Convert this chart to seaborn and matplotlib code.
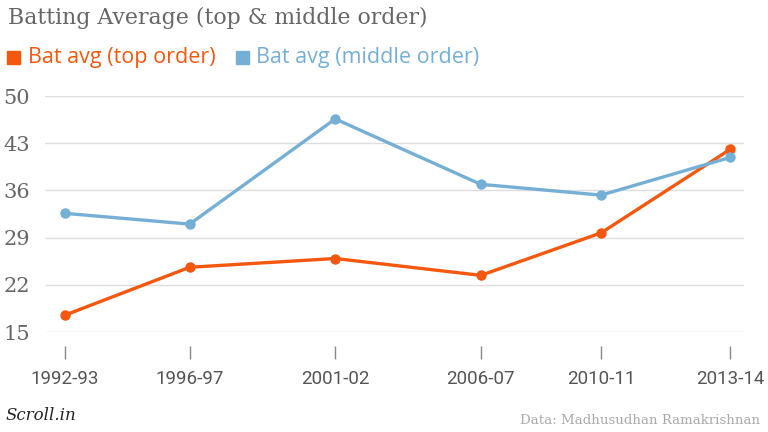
import pandas as pd
import matplotlib.pyplot as plt
import seaborn as sns
from matplotlib.patches import Rectangle

# Datos
seasons = ['1992-93', '1996-97', '2001-02', '2006-07', '2010-11', '2013-14']
season_x = [1992.5, 1996.7, 2001.6, 2006.5, 2010.55, 2014.9]
top_order = [17.5, 24.6, 25.9, 23.4, 29.7, 42.1]
middle_order = [32.6, 31.0, 46.6, 36.9, 35.3, 40.9]
y_ticks = [15, 22, 29, 36, 43, 50]

orange = '#f4580f'
blue = '#76afd5'

df = pd.DataFrame({
    'x': season_x * 2,
    'avg': top_order + middle_order,
    'serie': ['Bat avg (top order)'] * 6 + ['Bat avg (middle order)'] * 6,
})

sns.set_style('white')
fig = plt.figure(figsize=(7.68, 4.32), dpi=100)
ax = fig.add_axes([45 / 768, 100 / 432, 699 / 768, 236 / 432])

sns.lineplot(data=df, x='x', y='avg', hue='serie',
             palette={'Bat avg (top order)': orange, 'Bat avg (middle order)': blue},
             marker='o', markersize=7.5, markeredgewidth=0, linewidth=2.4,
             legend=False, ax=ax)

ax.set_xlim(1991.83, 2015.36)
ax.set_ylim(15, 50)
ax.set_xlabel('')
ax.set_ylabel('')
ax.grid(axis='y', color='#dddddd', linewidth=1)
for s in ['top', 'right', 'left']:
    ax.spines[s].set_visible(False)
ax.spines['bottom'].set_position(('outward', 10))
ax.spines['bottom'].set_visible(False)
ax.tick_params(axis='x', direction='out', length=9, width=1, color='#888888', pad=8, bottom=True,
               labelsize=13.5, labelcolor='#555555')
ax.tick_params(axis='y', length=0, pad=11, labelsize=15, labelcolor='#666666')

ax.set_yticks(y_ticks)
ax.set_yticklabels([str(t) for t in y_ticks], family='DejaVu Serif', fontsize=15, color='#666666')
ax.set_xticks(season_x)
ax.set_xticklabels(seasons, family='Roboto', fontsize=13.5, color='#555555')

# Título y leyenda
fig.text(8 / 768, 1 - 18 / 432, 'Batting Average (top & middle order)', family='DejaVu Serif',
         fontsize=15.8, color='#666666', va='center')
fig.patches.append(Rectangle((7 / 768, 1 - 64 / 432), 13 / 768, 13 / 432,
                             transform=fig.transFigure, color=orange))
fig.text(28 / 768, 1 - 58 / 432, 'Bat avg (top order)', family='Open Sans', fontsize=15.5,
         color=orange, va='center')
fig.patches.append(Rectangle((236 / 768, 1 - 64 / 432), 13 / 768, 13 / 432,
                             transform=fig.transFigure, color=blue))
fig.text(256 / 768, 1 - 58 / 432, 'Bat avg (middle order)', family='Open Sans', fontsize=15.5,
         color=blue, va='center')

# Pie
fig.text(6 / 768, 1 - 416 / 432, 'Scroll.in', family='DejaVu Serif', style='italic',
         fontsize=12, color='#222222', va='center')
fig.text(760 / 768, 1 - 421 / 432, 'Data: Madhusudhan Ramakrishnan', family='DejaVu Serif',
         fontsize=9.6, color='#aaaaaa', va='center', ha='right')

plt.savefig('out.png', dpi=100)
